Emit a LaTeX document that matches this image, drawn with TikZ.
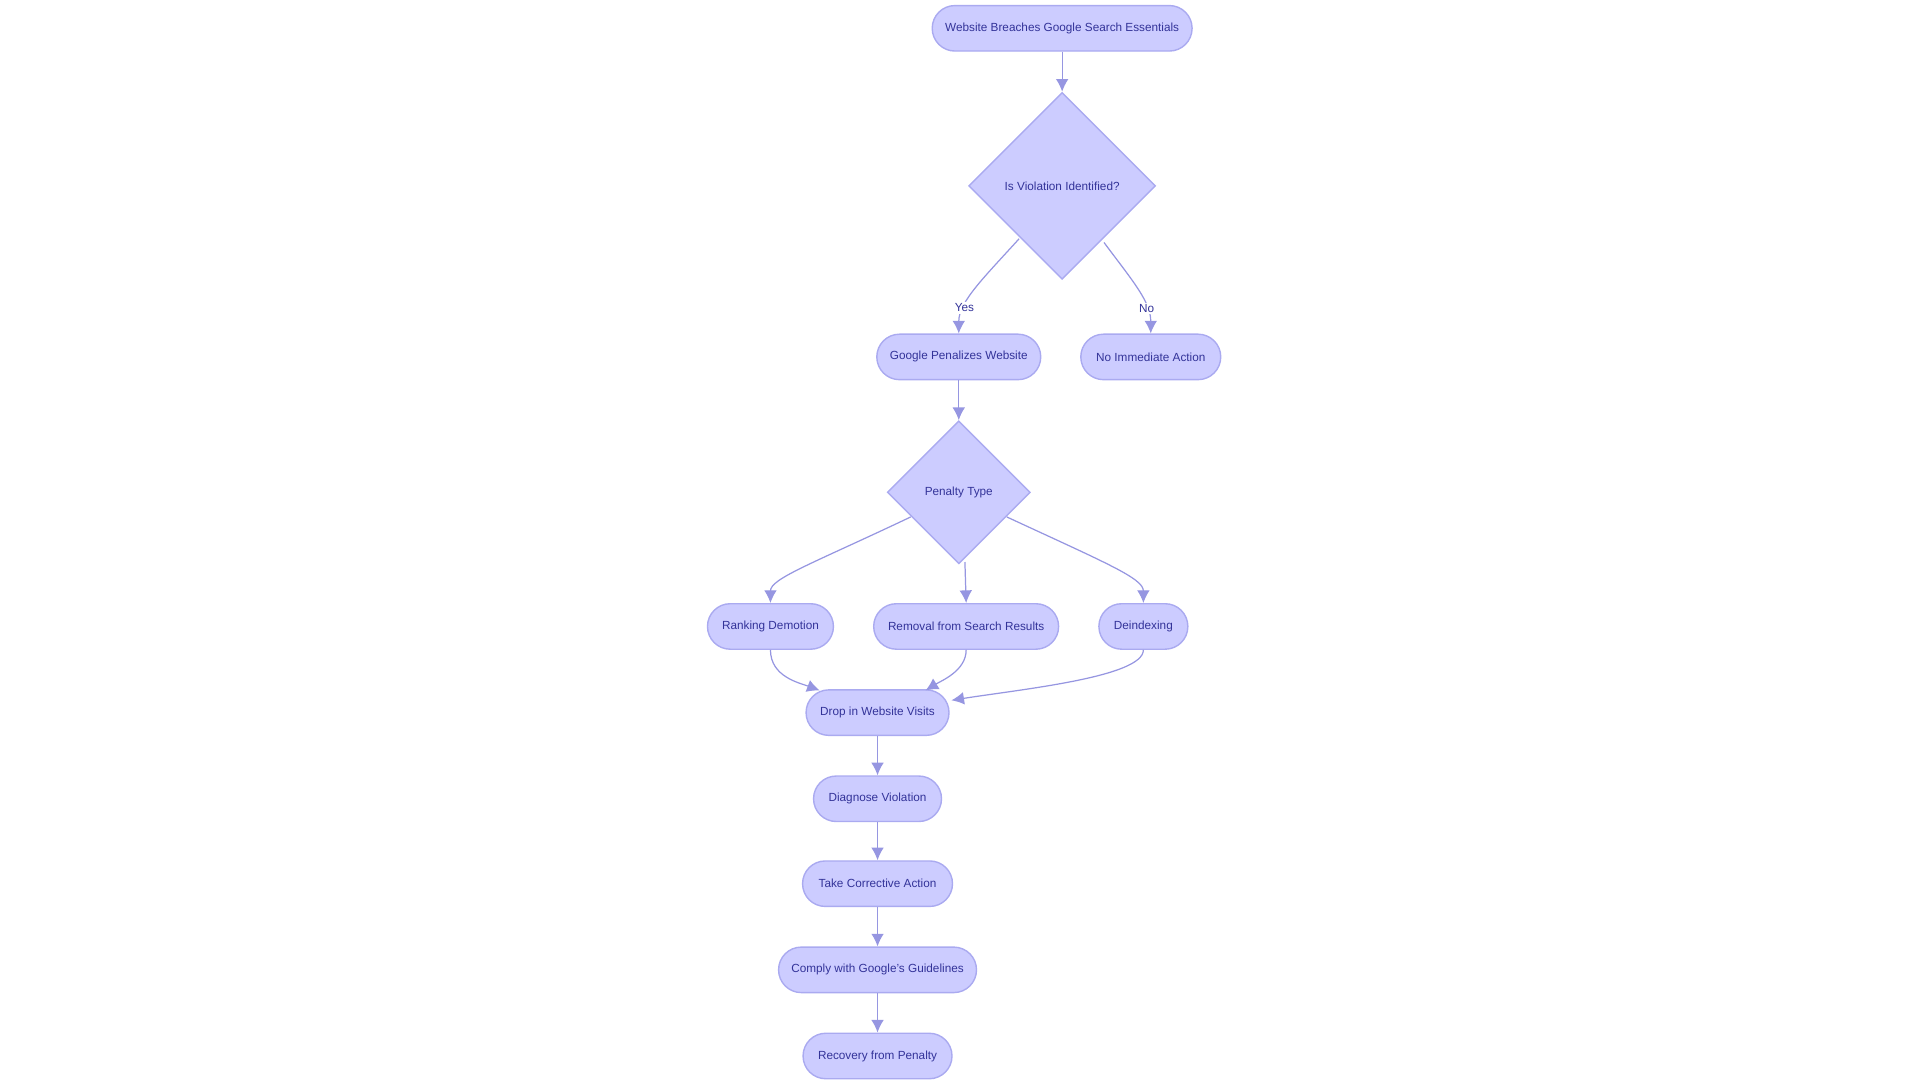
\documentclass[tikz,border=0pt]{standalone}
\usepackage{fontspec}
\setmainfont{Liberation Sans}
\usetikzlibrary{shapes.geometric}
\definecolor{boxfill}{RGB}{204,204,255}
\definecolor{boxline}{RGB}{170,170,240}
\definecolor{edgeline}{RGB}{150,150,225}
\definecolor{txt}{RGB}{51,51,153}
\tikzset{
  pill/.style={draw=boxline, fill=boxfill, rounded corners=0.227cm, minimum height=0.455cm, inner sep=0pt, text=txt, font=\fontsize{3.35}{4}\selectfont},
  choice/.style={diamond, draw=boxline, fill=boxfill, inner sep=0pt, aspect=1, text=txt, font=\fontsize{3.35}{4}\selectfont},
  link/.style={draw=edgeline, line width=0.35pt, -{Latex[length=3.6pt,width=3.6pt]}},
  tag/.style={text=txt, font=\fontsize{3.35}{4}\selectfont, fill=white, inner sep=0.5pt}
}
\usetikzlibrary{arrows.meta}
\begin{document}
\begin{tikzpicture}[x=0.012308cm, y=-0.012308cm]
\useasboundingbox (0,0) rectangle (1560,877.5);
\node[pill, minimum width=2.60cm] (breach) at (863,23) {Website Breaches Google Search Essentials};
\node[choice, minimum size=1.87cm] (found) at (863,151) {Is Violation Identified?};
\node[pill, minimum width=1.64cm] (penal) at (779,290) {Google Penalizes Website};
\node[pill, minimum width=1.40cm] (noact) at (935,290) {No Immediate Action};
\node[choice, minimum size=1.43cm] (ptype) at (779,400) {Penalty Type};
\node[pill, minimum width=1.26cm] (demote) at (626,509) {Ranking Demotion};
\node[pill, minimum width=1.85cm] (remove) at (785,509) {Removal from Search Results};
\node[pill, minimum width=0.89cm] (deindex) at (929,509) {Deindexing};
\node[pill, minimum width=1.43cm] (drop) at (713,579) {Drop in Website Visits};
\node[pill, minimum width=1.28cm] (diag) at (713,649) {Diagnose Violation};
\node[pill, minimum width=1.50cm] (fix) at (713,718) {Take Corrective Action};
\node[pill, minimum width=1.98cm] (comply) at (713,788) {Comply with Google's Guidelines};
\node[pill, minimum width=1.49cm] (recover) at (713,858) {Recovery from Penalty};

\coordinate (c1) at (828,194);
\coordinate (c2) at (897,197);
\coordinate (c3) at (740,420);
\coordinate (c4) at (818,420);
\path[link] (breach) -- (found.north);
\path[link] (c1) .. controls (800,225) and (779,245) .. (penal.north) node[tag, pos=0.72] {Yes};
\path[link] (c2) .. controls (920,228) and (935,245) .. (noact.north) node[tag, pos=0.72] {No};
\path[link] (penal) -- (ptype.north);
\path[link] (c3) .. controls (660,458) and (626,470) .. (demote.north);
\path[link] (ptype.south) ++(5,-2) -- (remove.north);
\path[link] (c4) .. controls (900,458) and (929,470) .. (deindex.north);
\path[link] (demote.south) .. controls (626,550) and (650,555) .. (666,561);
\path[link] (remove.south) .. controls (785,545) and (765,553) .. (752,561);
\path[link] (deindex.south) .. controls (929,550) and (830,560) .. (773,569);
\path[link] (drop) -- (diag);
\path[link] (diag) -- (fix);
\path[link] (fix) -- (comply);
\path[link] (comply) -- (recover);
\end{tikzpicture}
\end{document}
